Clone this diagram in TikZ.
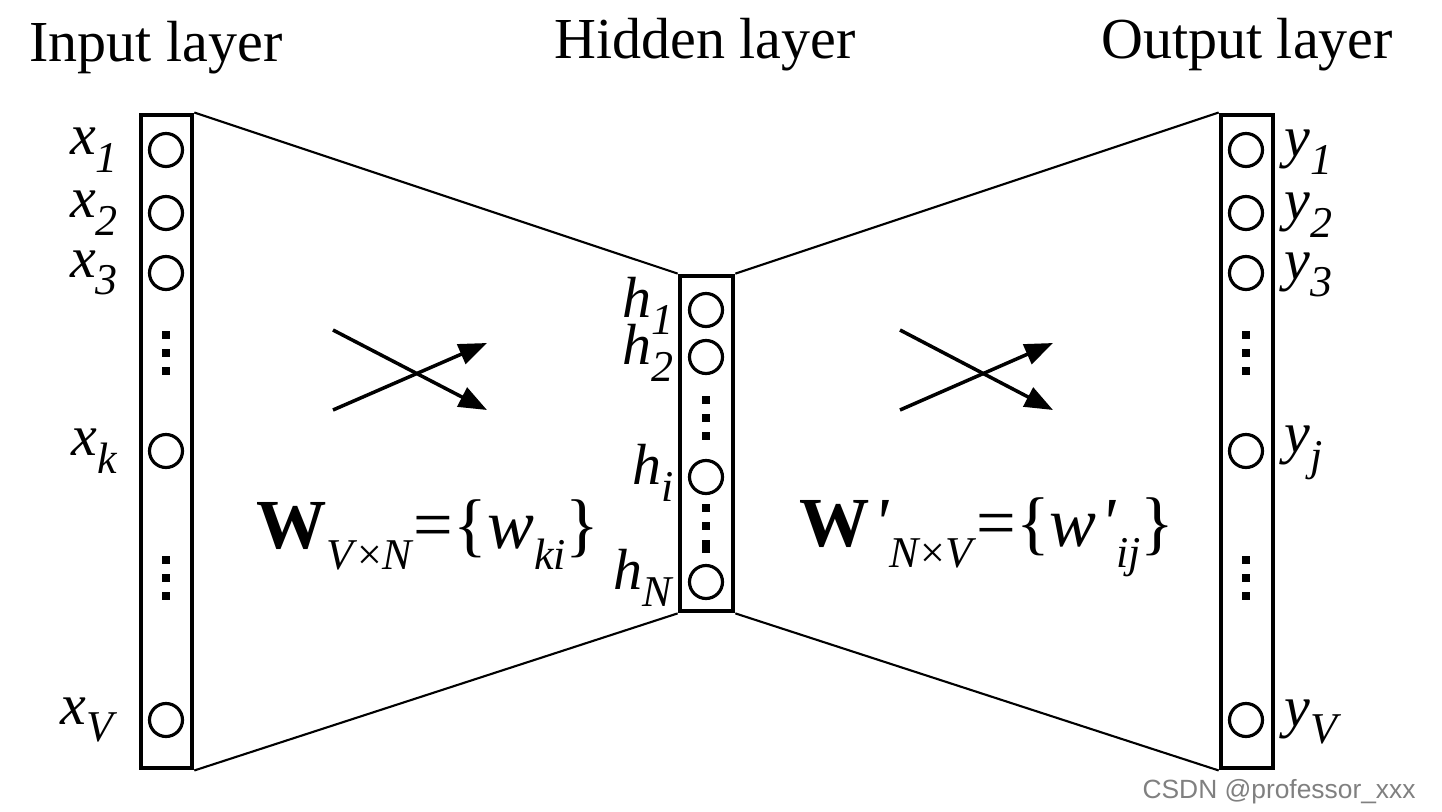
\documentclass[tikz,border=0pt]{standalone}
\usepackage{fontspec}
\setmainfont{Liberation Serif}
\newfontfamily\wmfont{Liberation Sans}
\usetikzlibrary{arrows.meta}
\newcommand{\mysub}[2]{\textit{#1}\raisebox{-0.3em}{\fontsize{12.5}{13}\selectfont\textit{#2}}}
\begin{document}
\begin{tikzpicture}[x=0.01cm,y=-0.01cm,
  bar/.style={draw,line width=1.3pt,inner sep=0},
  unit/.style={circle,draw,line width=0.9pt,inner sep=0,minimum size=0.33cm},
  lab/.style={font=\fontsize{16.5}{18}\selectfont,inner sep=1pt},
  title/.style={font=\fontsize{16.5}{18}\selectfont},
  link/.style={line width=0.6pt},
  arr/.style={line width=1pt,-{Triangle[length=8pt,width=6pt]}}]
\useasboundingbox (0,0) rectangle (1442,812);
\newcommand{\vdotsq}[2]{\foreach \d in {0,1,2}{\fill (#1-4,#2+\d*18-4) rectangle (#1+4,#2+\d*18+4);}}
% bars
\node[bar,minimum width=0.51cm,minimum height=6.53cm] (inb) at (166.5,441.5) {};
\node[bar,minimum width=0.53cm,minimum height=3.35cm] (hidb) at (706.5,443.5) {};
\node[bar,minimum width=0.52cm,minimum height=6.53cm] (outb) at (1247,441.5) {};
% titles
\node[title] (t1) at (156,48) {Input layer};
\node[title] (t2) at (705,45) {Hidden layer};
\node[title] (t3) at (1247,45) {Output layer};
% input units
\foreach \n/\y/\s in {1/150/1,2/213/2,3/273/3,k/451/k,V/720/V}{
  \node[unit] (x\n) at (166,\y) {};
  \node[lab,anchor=east] (lx\n) at (122,\y) {\mysub{x}{\s}};
}
\vdotsq{166}{335}
\vdotsq{166}{560}
% hidden
\foreach \n/\y in {1/310,2/357,i/477,N/582}{
  \node[unit] (h\n) at (706,\y) {};
  \node[lab,anchor=east] (lh\n) at (678,\y-4) {\mysub{h}{\n}};
}
\vdotsq{706}{400}
\vdotsq{706}{508}
\fill (702,545) rectangle (710,553);
% output
\foreach \n/\y/\s in {1/150/1,2/213/2,3/273/3,j/451/j,V/720/V}{
  \node[unit] (y\n) at (1246,\y) {};
  \node[lab,anchor=west] (ly\n) at (1280,\y+2) {\mysub{y}{\s}};
}
\vdotsq{1246}{335}
\vdotsq{1246}{560}
% connecting lines
\draw[link] (inb.north east) -- (hidb.north west);
\draw[link] (inb.south east) -- (hidb.south west);
\draw[link] (hidb.north east) -- (outb.north west);
\draw[link] (hidb.south east) -- (outb.south west);
% arrows
\coordinate (a1) at (333,330); \coordinate (a2) at (487,410);
\coordinate (a3) at (333,410); \coordinate (a4) at (487,343);
\draw[arr] (a1) -- (a2); \draw[arr] (a3) -- (a4);
\coordinate (b1) at (900,330); \coordinate (b2) at (1053,410);
\coordinate (b3) at (900,410); \coordinate (b4) at (1053,343);
\draw[arr] (b1) -- (b2); \draw[arr] (b3) -- (b4);
% weight labels
\node[font=\fontsize{20}{22}\selectfont] (w1) at (428,535) {\textbf{W}\raisebox{-0.3em}{\fontsize{12.5}{13}\selectfont\textit{V}×\textit{N}}=\{\mysub{w}{ki}\}};
\node[font=\fontsize{20}{22}\selectfont] (w2) at (987,537) {\textbf{W}\kern1pt\textit{ʹ}\raisebox{-0.3em}{\fontsize{12.5}{13}\selectfont\textit{N}×\textit{V}}=\{\textit{w}\kern1pt\textit{ʹ}\raisebox{-0.3em}{\fontsize{12.5}{13}\selectfont\textit{ij}}\}};
% watermark
\node[font=\wmfont\fontsize{7.5}{9}\selectfont,text=gray,anchor=east] (wm) at (1428,792) {CSDN @professor\_xxx};
\end{tikzpicture}
\end{document}
